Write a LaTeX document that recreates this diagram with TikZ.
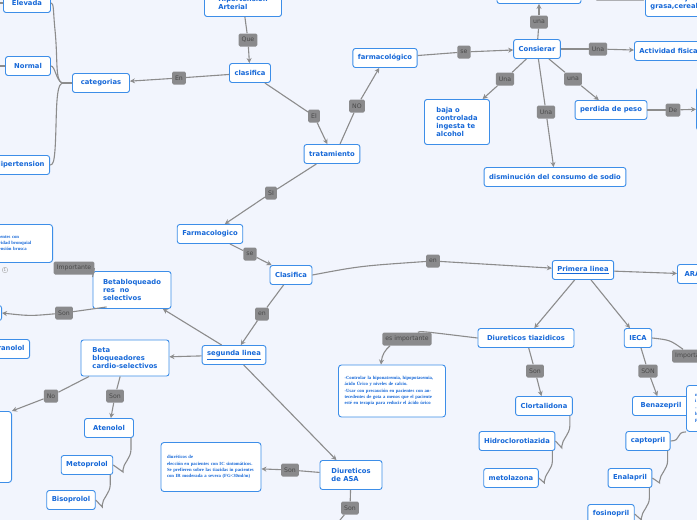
\documentclass[tikz,border=0pt]{standalone}
\usepackage{fontspec}
\setsansfont{DejaVu Sans}
\setmainfont{Liberation Serif}
\usetikzlibrary{arrows.meta}
\definecolor{bg}{HTML}{F2F5FD}
\definecolor{bb}{HTML}{3D8EE8}
\definecolor{bt}{HTML}{1668D8}
\definecolor{lg}{HTML}{8A8A8C}
\definecolor{lt}{HTML}{4A4A4A}
\definecolor{cn}{HTML}{8C8C8C}
\tikzset{
 box/.style={draw=bb,line width=0.9pt,fill=white,rounded corners=2.5pt,text=bt,font=\sffamily\bfseries\fontsize{6.8}{8}\selectfont,inner xsep=5pt,inner ysep=0pt,minimum height=19pt,align=left},
 lab/.style={fill=lg,rounded corners=1.5pt,text=lt,font=\sffamily\fontsize{6.2}{7}\selectfont,inner xsep=3pt,minimum height=13pt,inner ysep=0pt},
 note/.style={draw=bb,line width=0.9pt,fill=white,rounded corners=3pt,text=bt,font=\rmfamily\bfseries\fontsize{4.7}{6.2}\selectfont,align=left,inner sep=6pt},
 con/.style={draw=cn,line width=1.1pt},
 arr/.style={con,-{Stealth[length=5pt,width=5pt]}}
}
\begin{document}
\begin{tikzpicture}[x=1pt,y=-1pt]
\fill[bg] (0,0) rectangle (697,520);
\useasboundingbox (0,0) rectangle (697,520);
\begin{scope}
\clip (0,0) rectangle (697,520);
% nodes
\node[box,minimum width=77pt,minimum height=27pt] (ha) at (243,3) {Hipertension\\Arterial};
\node[box] (clas) at (250,73) {clasifica};
\node[box,minimum width=57pt] (cat) at (101,83) {categorias};
\node[box,minimum width=47pt] (elev) at (27,3) {Elevada};
\node[box,minimum width=45pt] (norm) at (28,66) {Normal};
\node[box,anchor=east] (hip) at (50,165) {Hipertension};
\node[box] (trat) at (332,154) {tratamiento};
\node[box] (farm) at (210,234) {Farmacologico};
\node[box] (Clas) at (291,275) {Clasifica};
\node[box] (farmno) at (385,58) {farmacológico};
\node[box] (cons) at (537,49) {Consierar};
\node[box,minimum width=84pt] (top) at (539,-6) {};
\node[lab,minimum width=50pt] (toplab) at (620,-6) {};
\node[box,anchor=north west,minimum width=60pt,minimum height=28pt] (grasa) at (645,-12) {frutas bajas\\grasa,cereales};
\node[box,anchor=west] (act) at (634,51) {Actividad fisica};
\node[box,minimum width=65pt,minimum height=45pt] (baja) at (457,122) {baja o\\controlada\\ingesta te\\alcohol};
\node[box] (perd) at (611,110) {perdida de peso};
\node[box,anchor=west,minimum width=20pt,minimum height=42pt] (rb) at (696,109) {};
\node[box] (sod) at (555,177) {disminución del consumo de sodio};
\node[box] (prim) at (583,270) {\underline{Primera linea}};
\node[box,anchor=west,minimum width=30pt] (ara) at (677,274) {ARA};
\node[box,minimum width=96pt] (diu) at (526,338) {Diureticos tiazidicos};
\node[box] (ieca) at (638,338) {IECA};
\node[box] (clor) at (544,406) {Clortalidona};
\node[box] (hidro) at (517,441) {Hidroclorotiazida};
\node[box] (meto) at (511,478) {metolazona};
\node[box,minimum width=57pt] (bena) at (661,406) {Benazepril};
\node[box] (capt) at (648,441) {captopril};
\node[box] (enal) at (630,478) {Enalapril};
\node[box] (fosi) at (611,514) {fosinopril};
\node[note,anchor=north west,minimum height=46pt,minimum width=20pt] (rnote) at (686,385) {n\\i\\-\\h\\p};
\node[note,text width=95pt,minimum height=52pt] (esn) at (392,391) {-Controlar la hiponatremia, hipopotasemia, ácido Úrico y niveles de calcio.\\-Usar con precaución en pacientes con antecedentes de gota a menos que el paciente esté en terapia para reducir el ácido úrico};
\node[box] (seg) at (234,355) {\underline{segunda linea}};
\node[box,minimum width=78pt,minimum height=37pt] (bns) at (132,290) {Betabloqueado\\res\ \ no\\selectivos};
\node[box,minimum width=88pt,minimum height=36pt] (bcs) at (125,358) {Beta\\bloqueadores\\cardio-selectivos};
\node[note,anchor=north east,minimum height=38pt,text width=70pt] (lnote) at (53,224) {Uso en pacientes con\\hiperreactividad bronquial\\evitar suspensión brusca};
\node[draw=cn!70,circle,inner sep=0.6pt,font=\sffamily\fontsize{4}{5}\selectfont,text=cn] (one) at (5,270) {1};
\node[box,anchor=east,minimum height=15pt] (lbox) at (2,313) {x};
\node[box,anchor=east] (prop) at (30,349) {Propranolol};
\node[note,anchor=north east,minimum height=71pt,text width=30pt] (lnote2) at (12,411) {.\\.\\.\\.\\r\\s};
\node[box,minimum width=49pt] (aten) at (109,428) {Atenolol};
\node[box] (metop) at (87,465) {Metoprolol};
\node[box] (biso) at (71,500) {Bisoprolol};
\node[box,minimum width=62pt,minimum height=29pt] (asa) at (351,475) {Diureticos\\de ASA};
\node[note,text width=88pt,minimum height=49pt] (asan) at (211,467) {diuréticos de\\elección en pacientes con IC sintomáticos. Se prefieren sobre las tiazidas in pacientes con IR moderada a severa (FG<30ml/m)};
\coordinate (asaend) at (340,520);
% labels
\node[lab] (lQue) at (248,40) {Que};
\node[lab] (lEn) at (179,78) {En};
\node[lab] (lEl) at (314,116) {El};
\node[lab] (lNO) at (357,106) {NO};
\node[lab] (lSI) at (271,193) {SI};
\node[lab] (lse) at (250,254) {se};
\node[lab] (len) at (262,314) {en};
\node[lab] (len2) at (433,261) {en};
\node[lab] (lse2) at (464,52) {se};
\node[lab] (luna) at (539,22) {una};
\node[lab] (lUna1) at (598,49) {Una};
\node[lab] (lUna2) at (505,79) {Una};
\node[lab] (luna3) at (573,79) {una};
\node[lab] (lUna4) at (546,112) {Una};
\node[lab] (lDe) at (673,110) {De};
\node[lab] (lesi) at (407,339) {es importante};
\node[lab] (lSon1) at (535,371) {Son};
\node[lab] (lSON) at (648,371) {SON};
\node[lab,anchor=west] (limp) at (672,356) {Importante};
\node[lab] (limp2) at (74,268) {Importante};
\node[lab] (lSon2) at (64,313) {Son};
\node[lab] (lNo) at (51,396) {No};
\node[lab] (lSon3) at (115,396) {Son};
\node[lab] (lSon4) at (290,470) {Son};
\node[lab] (lSon5) at (350,508) {Son};
% connectors
\draw[con] (ha) -- (lQue); \draw[arr] (lQue) -- (clas);
\draw[con] (clas) -- (lEn); \draw[arr] (lEn) -- (cat);
\draw[con] (clas) -- (lEl); \draw[arr] (lEl) -- (trat);
\draw[con] (trat.north) ++(8,0) coordinate (tn) -- (lNO); \draw[arr] (lNO) -- (farmno);
\draw[con] (trat) -- (lSI); \draw[arr] (lSI) -- (farm);
\draw[con] (farm) -- (lse); \draw[arr] (lse) -- (Clas);
\draw[con] (Clas) -- (len); \draw[arr] (len) -- (seg);
\draw[con] (Clas.east) .. controls (360,266) .. (len2); \draw[arr] (len2) -- (prim);
\draw[con] (farmno) -- (lse2); \draw[arr] (lse2) -- (cons);
\draw[con] (cons) -- (luna); \draw[arr] (luna) -- (top);
\draw[con] (cons) -- (lUna1); \draw[arr] (lUna1) -- (act);
\draw[con] (cons) -- (lUna2); \draw[arr] (lUna2) -- (baja);
\draw[con] (cons) -- (luna3); \draw[arr] (luna3) -- (perd);
\draw[con] (cons) -- (lUna4); \draw[arr] (lUna4) -- (sod);
\draw[con] (perd) -- (lDe); \draw[arr] (lDe) -- (rb);
\draw[arr] (prim) -- (ara);
\draw[arr] (prim) -- (diu);
\draw[arr] (prim) -- (ieca);
\draw[con] (diu.west) .. controls (420,331) .. (lesi); \draw[arr] (lesi.south west) ++(8,0) .. controls (385,350) and (382,355) .. (esn.north -| 381,0);
\draw[con] (diu) -- (lSon1); \draw[arr] (lSon1) -- (clor);
\draw[con] (ieca) -- (lSON); \draw[arr] (lSON) -- (bena);
\draw[con] (ieca.east) .. controls (670,340) .. (limp);
\draw[con] (clor.east |- clor.south) ++(-3,0) -- ++(0,10) .. controls ++(0,8) and ++(0,-6) .. ++(-8,20) -- ++(0,2) -- (hidro.east);
\draw[con] (hidro.east |- hidro.south) ++(-3,0) -- ++(0,10) .. controls ++(0,8) and ++(0,-6) .. ++(-8,20) -- ++(0,2) -- (meto.east);
\draw[con] (rnote.south west) ++(0,0) .. controls (675,432) and (682,441) .. (capt.east);
\draw[con] (capt.south east) ++(-3,0) -- ++(0,10) .. controls ++(0,8) and ++(0,-6) .. ++(-8,20) -- ++(0,2) -- (enal.east);
\draw[con] (enal.south east) ++(-3,0) -- ++(0,10) .. controls ++(0,8) and ++(0,-6) .. ++(-8,20) -- ++(0,2) -- (fosi.east);
\draw[arr] (seg) -- (bcs);
\draw[arr] (seg.north west) ++(20,0) -- (bns);
\draw[arr] (seg) -- (asa);
\draw[con] (bns.south west) ++(14,-2) -- (lSon2); \draw[arr] (lSon2) .. controls (30,316) .. (lbox.east);
\draw[con] (bns.north west) ++(0,6) -- (limp2.east);
\draw[con] (bcs) -- (lNo); \draw[arr] (lNo) -- (lnote2.north east);
\draw[con] (bcs) -- (lSon3); \draw[arr] (lSon3) -- (aten);
\draw[con] (aten.south east) ++(-3,0) -- ++(0,12) .. controls ++(0,8) and ++(0,-6) .. ++(-8,20) -- ++(0,2) -- (metop.east);
\draw[con] (metop.south east) ++(-3,0) -- ++(0,10) .. controls ++(0,8) and ++(0,-6) .. ++(-8,20) -- ++(0,2) -- (biso.east);
\draw[con] (asa) -- (lSon4); \draw[arr] (lSon4) -- (asan);
\draw[con] (asa) -- (lSon5) -- (asaend);
\draw[con] (cat.west) -- (62,83);
\draw[con] (62,83) .. controls (55,80) and (58,60) .. (55,30) .. controls (53,10) and (54,3) .. (elev.east);
\draw[con] (62,83) .. controls (56,80) and (55,66) .. (norm.east);
\draw[con] (62,83) .. controls (55,86) and (57,120) .. (55,150) .. controls (54,162) and (53,165) .. (hip.east);
\draw[con] (elev.west) -- ++(-6,0);
\draw[con] (norm.west) -- ++(-6,0);
\end{scope}
\end{tikzpicture}
\end{document}
